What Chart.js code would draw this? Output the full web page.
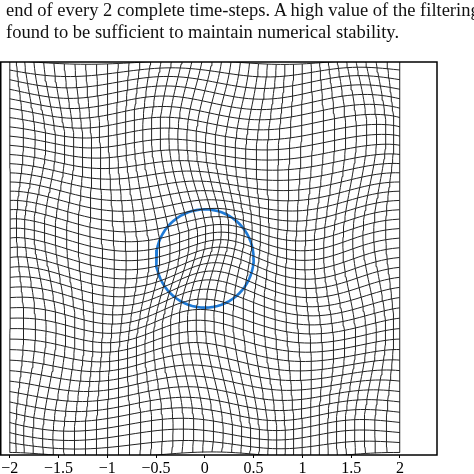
<!DOCTYPE html>
<html><head><meta charset="utf-8">
<script src="https://cdn.jsdelivr.net/npm/chart.js@4"></script>
<style>
html,body{margin:0;padding:0;background:#fff;width:474px;height:474px;overflow:hidden}
#wrap{position:absolute;left:0;top:0;width:474px;height:474px}
.t{position:absolute;left:6px;white-space:nowrap;font-family:"Liberation Serif",serif;font-size:18.5px;color:#111}
</style></head><body>
<div id="wrap"><canvas id="c" width="474" height="474"></canvas></div>
<div class="t" style="top:0px">end of every 2 complete time-steps. A high value of the filtering</div>
<div class="t" style="top:22px">found to be sufficient to maintain numerical stability.</div>
<script>
// mesh base coordinates (reference grid, spacing 0.1)
const gridX = [-2,-1.9,-1.8,-1.7,-1.6,-1.5,-1.4,-1.3,-1.2,-1.1,-1,-0.9,-0.8,-0.7,-0.6,-0.5,-0.4,-0.3,-0.2,-0.1,0,0.1,0.2,0.3,0.4,0.5,0.6,0.7,0.8,0.9,1,1.1,1.2,1.3,1.4,1.5,1.6,1.7,1.8,1.9,2];
const gridY = gridX.slice();
// estimated displacement-mode amplitudes
const contraction = 0.22;      // pull of nodes toward the cylinder
const waveAmpY = [0.13, 0.11]; // vertical wave amplitude at bottom / top
const wavePhaseY = [0, 0.2];   // phase shift at bottom / top
const waveAmpX = 0.09;         // horizontal waviness of vertical lines
const circleR = 0.5;
const xTicks = [-2,-1.5,-1,-0.5,0,0.5,1,1.5,2];

function map(x,y){
  const r2 = x*x+y*y;
  const g = Math.exp(-r2/0.9);
  const t = (y+2)/4;
  const dyw = (1-t)*waveAmpY[0]*Math.cos(Math.PI*(x+wavePhaseY[0])) + t*waveAmpY[1]*Math.cos(Math.PI*(x+wavePhaseY[1]));
  const edge = (1-Math.exp(-(4-y*y)*1.5));
  const edgex = (1-Math.exp(-(4-x*x)*1.5));
  let X = x - contraction*x*g + waveAmpX*Math.sin(Math.PI*(y+0.3))*Math.cos(Math.PI*x*0.5)*edgex;
  let Y = y - contraction*y*g + dyw*(0.6+0.4*Math.cos(Math.PI*y/2)) + 0.07*Math.sin(Math.PI*x)*Math.cos(Math.PI*y/2)*edge;
  return {x:X,y:Y};
}
const datasets=[];
const ls={type:'scatter',showLine:true,borderColor:'#222',borderWidth:1,pointRadius:0,tension:0,fill:false};
gridY.forEach(y=>{ datasets.push(Object.assign({},ls,{data:gridX.flatMap((x,i)=>i<gridX.length-1?[map(x,y),map(x+0.05,y)]:[map(x,y)])})); });
gridX.forEach(x=>{ datasets.push(Object.assign({},ls,{data:gridY.flatMap((y,i)=>i<gridY.length-1?[map(x,y),map(x,y+0.05)]:[map(x,y)])})); });
const circ=[];for(let k=0;k<=72;k++){const a=k/72*2*Math.PI;circ.push({x:circleR*Math.cos(a),y:circleR*Math.sin(a)});}
datasets.push(Object.assign({},ls,{data:circ,borderColor:'#1f7ad6',borderWidth:2.6}));

const border={id:'b',afterDatasetsDraw(c){const a=c.chartArea,x=c.ctx;x.save();x.strokeStyle='#000';x.lineWidth=1.5;x.strokeRect(a.left+0.75,a.top,a.right-a.left-0.75,a.bottom-a.top);x.restore();}};
new Chart(document.getElementById('c'),{type:'scatter',data:{datasets},plugins:[border],
options:{responsive:false,animation:false,events:[],
 layout:{padding:{top:62,right:37,left:0,bottom:0}},
 plugins:{legend:{display:false},tooltip:{enabled:false}},
 scales:{
  x:{type:'linear',min:-2.1,max:2.38,afterBuildTicks(s){s.ticks=xTicks.map(v=>({value:v}));},
     afterFit(s){s.height=19;},
     grid:{display:true,drawOnChartArea:false,tickLength:3,color:'#000'},border:{display:false},
     ticks:{padding:1,maxRotation:0,autoSkip:false,color:'#000',font:{family:'Liberation Serif',size:16},callback:v=>String(v).replace('-','\u2212')}},
  y:{type:'linear',min:-2,max:2,display:false}
 }}});
</script></body></html>
